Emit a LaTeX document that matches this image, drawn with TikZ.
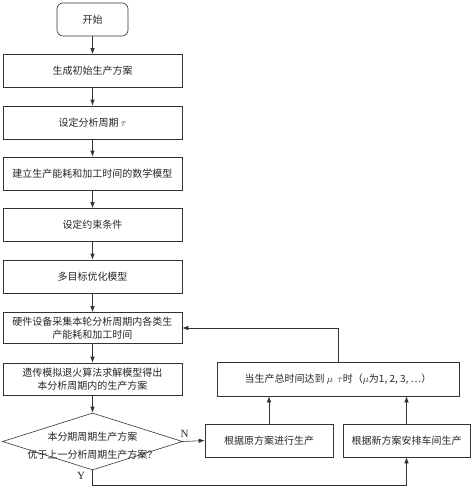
\documentclass[tikz,border=0pt]{standalone}
\usepackage{fontspec}
\setmainfont{Noto Sans CJK SC}
\newfontfamily\latinfont{Liberation Serif}
\usetikzlibrary{shapes.geometric,arrows.meta}

\begin{document}
\begin{tikzpicture}[x=1pt, y=-1pt, ->, >={Latex[length=6pt,width=4.5pt]},
  line width=0.6pt, draw=black!80,
  every node/.style={font=\fontsize{10}{13}\selectfont, text=black!85},
  stepbox/.style={draw=black!80, rectangle, minimum width=179pt, minimum height=33pt, align=center, inner sep=1pt},
  sidebox/.style={draw=black!80, rectangle, minimum height=33pt, align=center, inner sep=1pt}]
  \useasboundingbox (0,0) rectangle (474,488);
  % main column
  \node (start) at (92.5,19.5) [draw=black!80, rounded corners=6pt, minimum width=71pt, minimum height=33pt] {开始};
  \node (init) at (92.5,71) [stepbox] {生成初始生产方案};
  \node (period) at (92.5,122.5) [stepbox] {设定分析周期 $\tau$};
  \node (model) at (92.5,173.5) [stepbox] {建立生产能耗和加工时间的数学模型};
  \node (constr) at (92.5,225) [stepbox] {设定约束条件};
  \node (multi) at (92.5,276.5) [stepbox] {多目标优化模型};
  \node (collect) at (92.5,328) [stepbox, minimum height=31pt] {硬件设备采集本轮分析周期内各类生\\产能耗和加工时间};
  \node (solve) at (92.5,379) [stepbox, minimum height=32pt] {遗传模拟退火算法求解模型得出\\本分析周期内的生产方案};
  \node (dec) at (92.5,441.5) [draw=black!80, diamond, minimum width=180pt, minimum height=57pt, inner sep=0pt] {};
  \node (dectext) at (92.5,446) [align=center, font=\fontsize{10}{18}\selectfont] {本分期周期生产方案\\优于上一分析周期生产方案？};
  % right side
  \node (orig) at (269,440.5) [sidebox, minimum width=128pt] {根据原方案进行生产};
  \node (newp) at (406.5,440.5) [sidebox, minimum width=127pt] {根据新方案安排车间生产};
  \node (total) at (338,379) [sidebox, minimum width=242pt, minimum height=34pt] {当生产总时间达到 $\mu\ \ \tau$时（$\mu$为1, 2, 3, …）};

  \draw (start) -- (init);
  \draw (init) -- (period);
  \draw (period) -- (model);
  \draw (model) -- (constr);
  \draw (constr) -- (multi);
  \draw (multi) -- (collect);
  \draw (collect) -- (solve);
  \draw (solve) -- (dec);
  \draw (dec.east) -- (orig.west) node [pos=0.08, above, font=\latinfont\fontsize{11}{13}\selectfont] {N};
  \draw (dec.south) -- ++(0,15) -| (newp.south);
  \node (ylabel) at (81,476) [font=\latinfont\fontsize{11}{13}\selectfont] {Y};
  \draw (orig.north) -- (orig.north |- total.south);
  \draw (newp.north) -- (newp.north |- total.south);
  \draw (total.north) |- (collect.east);
\end{tikzpicture}
\end{document}
